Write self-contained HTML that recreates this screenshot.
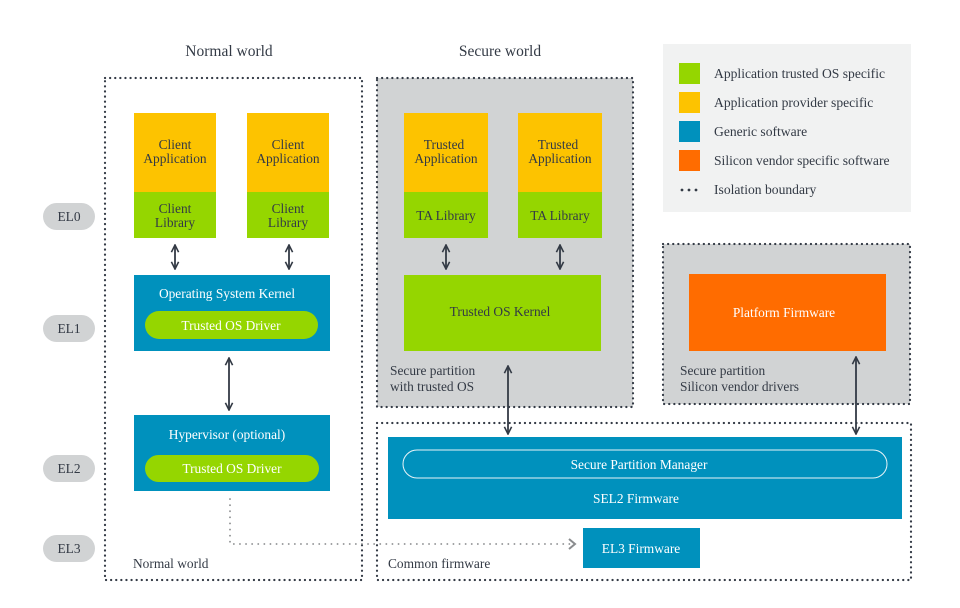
<!DOCTYPE html>
<html><head><meta charset="utf-8"><style>
html,body{margin:0;padding:0;background:#fff;}
svg{display:block;font-family:"Liberation Serif",serif;}
</style></head><body>
<svg width="960" height="608" viewBox="0 0 960 608" xmlns="http://www.w3.org/2000/svg">
<defs>
<marker id="ah" viewBox="0 0 10 10" refX="9" refY="5" markerWidth="5" markerHeight="5" orient="auto-start-reverse">
<path d="M1,1 L9,5 L1,9" fill="none" stroke="#333a45" stroke-width="1.8"/>
</marker>
</defs>
<!-- titles -->
<text x="229" y="56" font-size="15.5" fill="#333a45" text-anchor="middle">Normal world</text>
<text x="500" y="56" font-size="15.5" fill="#333a45" text-anchor="middle">Secure world</text>

<!-- legend -->
<rect x="663" y="44" width="248" height="168" fill="#f1f2f2"/>
<rect x="679" y="63" width="21" height="21" fill="#95d600"/>
<rect x="679" y="92" width="21" height="21" fill="#fdc300"/>
<rect x="679" y="121" width="21" height="21" fill="#0091bd"/>
<rect x="679" y="150" width="21" height="21" fill="#ff6c00"/>
<g fill="#333a45"><circle cx="682" cy="190" r="1.4"/><circle cx="689" cy="190" r="1.4"/><circle cx="696" cy="190" r="1.4"/></g>
<g font-size="13.6" fill="#333a45">
<text x="714" y="78">Application trusted OS specific</text>
<text x="714" y="107">Application provider specific</text>
<text x="714" y="136">Generic software</text>
<text x="714" y="165">Silicon vendor specific software</text>
<text x="714" y="194">Isolation boundary</text>
</g>

<!-- boxes -->
<rect x="377" y="78" width="256" height="329" fill="#d1d3d4"/>
<rect x="663" y="244" width="247" height="160" fill="#d1d3d4"/>
<g fill="none" stroke="#333a45" stroke-width="2.2" stroke-dasharray="0.1 5" stroke-linecap="round">
<rect x="105" y="78" width="257" height="502"/>
<rect x="377" y="78" width="256" height="329"/>
<rect x="663" y="244" width="247" height="160"/>
<rect x="377" y="423" width="534" height="157"/>
</g>

<!-- EL pills -->
<g fill="#d1d3d4">
<rect x="43" y="203" width="52" height="27" rx="13.5"/>
<rect x="43" y="315" width="52" height="27" rx="13.5"/>
<rect x="43" y="455" width="52" height="27" rx="13.5"/>
<rect x="43" y="535" width="52" height="27" rx="13.5"/>
</g>
<g font-size="13.4" fill="#333a45" text-anchor="middle">
<text x="69" y="221">EL0</text><text x="69" y="333">EL1</text><text x="69" y="473">EL2</text><text x="69" y="553">EL3</text>
</g>

<!-- normal world -->
<rect x="134" y="113" width="82" height="79" fill="#fdc300"/>
<rect x="134" y="192" width="82" height="46" fill="#95d600"/>
<rect x="247" y="113" width="82" height="79" fill="#fdc300"/>
<rect x="247" y="192" width="82" height="46" fill="#95d600"/>
<g font-size="13.4" fill="#333a45" text-anchor="middle">
<text x="175" y="149">Client</text><text x="175" y="163">Application</text>
<text x="175" y="213">Client</text><text x="175" y="227">Library</text>
<text x="288" y="149">Client</text><text x="288" y="163">Application</text>
<text x="288" y="213">Client</text><text x="288" y="227">Library</text>
</g>
<rect x="134" y="275" width="196" height="76" fill="#0091bd"/>
<rect x="145" y="311" width="173" height="28" rx="14" fill="#95d600"/>
<rect x="134" y="415" width="196" height="76" fill="#0091bd"/>
<rect x="145" y="455" width="174" height="27" rx="13.5" fill="#95d600"/>
<g font-size="13.4" fill="#fff" text-anchor="middle">
<text x="227" y="298">Operating System Kernel</text>
<text x="231" y="330">Trusted OS Driver</text>
<text x="227" y="439">Hypervisor (optional)</text>
<text x="232" y="473">Trusted OS Driver</text>
</g>
<text x="133" y="568" font-size="13.4" fill="#333a45">Normal world</text>

<!-- secure world -->
<rect x="404" y="113" width="84" height="79" fill="#fdc300"/>
<rect x="404" y="192" width="84" height="46" fill="#95d600"/>
<rect x="518" y="113" width="84" height="79" fill="#fdc300"/>
<rect x="518" y="192" width="84" height="46" fill="#95d600"/>
<rect x="404" y="275" width="197" height="76" fill="#95d600"/>
<g font-size="13.4" fill="#333a45" text-anchor="middle">
<text x="444" y="149">Trusted</text><text x="446" y="163">Application</text>
<text x="446" y="220">TA Library</text>
<text x="558" y="149">Trusted</text><text x="560" y="163">Application</text>
<text x="560" y="220">TA Library</text>
<text x="500" y="316">Trusted OS Kernel</text>
</g>
<g font-size="13.4" fill="#333a45">
<text x="390" y="375">Secure partition</text><text x="390" y="391">with trusted OS</text>
<text x="680" y="375">Secure partition</text><text x="680" y="391">Silicon vendor drivers</text>
<text x="388" y="568">Common firmware</text>
</g>
<rect x="689" y="274" width="197" height="77" fill="#ff6c00"/>
<text x="784" y="317" font-size="13.4" fill="#fff" text-anchor="middle">Platform Firmware</text>

<!-- firmware -->
<rect x="388" y="437" width="514" height="82" fill="#0091bd"/>
<rect x="403" y="450" width="484" height="28" rx="14" fill="none" stroke="#e8f4f8" stroke-width="1"/>
<rect x="583" y="528" width="117" height="40" fill="#0091bd"/>
<g font-size="13.4" fill="#fff" text-anchor="middle">
<text x="639" y="469">Secure Partition Manager</text>
<text x="636" y="503">SEL2 Firmware</text>
<text x="641" y="553">EL3 Firmware</text>
</g>

<!-- arrows -->
<g stroke="#333a45" stroke-width="1.8" marker-start="url(#ah)" marker-end="url(#ah)">
<line x1="175" y1="245" x2="175" y2="269"/>
<line x1="289" y1="245" x2="289" y2="269"/>
<line x1="446" y1="245" x2="446" y2="269"/>
<line x1="560" y1="245" x2="560" y2="269"/>
<line x1="229" y1="358" x2="229" y2="410"/>
<line x1="508" y1="366" x2="508" y2="434"/>
<line x1="856" y1="357" x2="856" y2="434"/>
</g>
<!-- dotted connector -->
<polyline points="230,499 230,544 574,544" fill="none" stroke="#8a8c8e" stroke-width="1.8" stroke-dasharray="0.1 6" stroke-linecap="round"/>
<path d="M569,539 L575,544 L569,549" fill="none" stroke="#8a8c8e" stroke-width="2"/>
</svg>
</body></html>
